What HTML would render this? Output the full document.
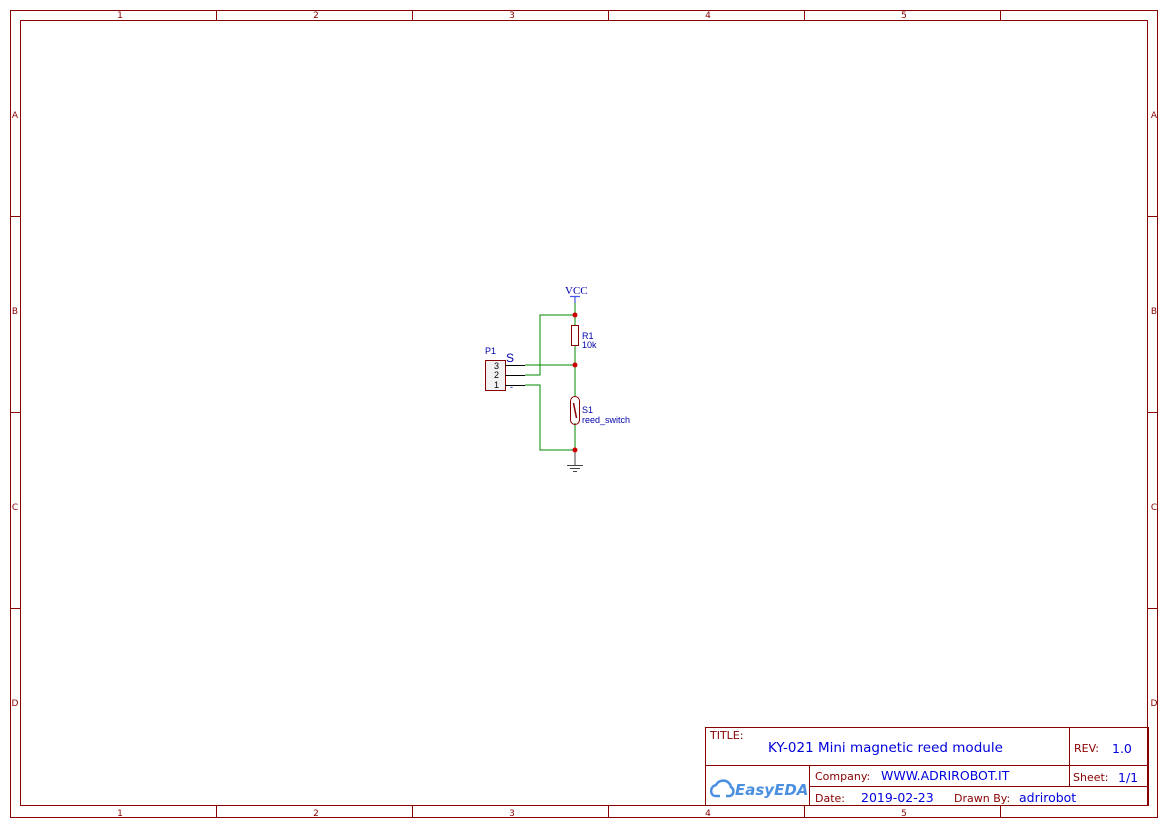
<!DOCTYPE html><html><head><style>body{margin:0;background:#fff}svg{display:block}</style></head><body>
<svg width="1169" height="827" xmlns="http://www.w3.org/2000/svg" font-family="DejaVu Sans, Liberation Sans, sans-serif">
<g stroke="#880000" fill="none" stroke-width="1">
<rect x="10.5" y="10.5" width="1147" height="807"/>
<rect x="20.5" y="20.5" width="1127" height="785"/>
<path d="M216.5 10v10M412.5 10v10M608.5 10v10M804.5 10v10M1000.5 10v10M216.5 806v12M412.5 806v12M608.5 806v12M804.5 806v12M1000.5 806v12M10 216.5h10M10 412.5h10M10 608.5h10M1148 216.5h10M1148 412.5h10M1148 608.5h10"/>
<rect x="705.5" y="727.5" width="443" height="78"/>
<path d="M705 765.5h444M809 786.5h340M1069.5 727v59M809.5 765v41"/>
</g>
<g fill="#880000" font-size="9" text-anchor="middle">
<text x="120" y="18">1</text><text x="316" y="18">2</text><text x="512" y="18">3</text><text x="708" y="18">4</text><text x="904" y="18">5</text>
<text x="120" y="816">1</text><text x="316" y="816">2</text><text x="512" y="816">3</text><text x="708" y="816">4</text><text x="904" y="816">5</text>
<text x="15" y="118">A</text><text x="15" y="314">B</text><text x="15" y="510">C</text><text x="15" y="706">D</text>
<text x="1154" y="118">A</text><text x="1154" y="314">B</text><text x="1154" y="510">C</text><text x="1154" y="706">D</text>
</g>
<g font-size="11" fill="#880000">
<text x="710" y="739">TITLE:</text><text x="1074" y="752">REV:</text><text x="1073" y="781">Sheet:</text>
<text x="815" y="780">Company:</text><text x="815" y="802">Date:</text><text x="954" y="802">Drawn By:</text>
</g>
<g fill="#0000dd">
<text x="768" y="752" font-size="13.5">KY-021 Mini magnetic reed module</text>
<text x="1112" y="753" font-size="12.5">1.0</text><text x="1118" y="782" font-size="12.5">1/1</text>
<text x="881" y="780" font-size="12.5">WWW.ADRIROBOT.IT</text>
<text x="861" y="802" font-size="12.5">2019-02-23</text><text x="1019" y="802" font-size="12.5">adrirobot</text>
</g>
<text x="735" y="795" font-size="15" font-weight="bold" font-style="italic" fill="#4a8fe0">EasyEDA</text>
<path d="M714 796a6 6 0 0 1 2-11a8 8 0 0 1 15 2a5 5 0 0 1 -1 9h-4m-6 0h-6" stroke="#4a8fe0" stroke-width="2.5" fill="none"/>
<g stroke="#008800" fill="none" stroke-width="1">
<path d="M575 303v22M575 345v52M575 423v42M575 315h-35v60h-15M525 365h50M525 385h15v65h35"/>
</g>
<path d="M575 296v7M570 296.5h10" stroke="#4455ee" stroke-width="1.2"/>
<text x="565" y="294" font-size="11" fill="#0000aa" font-family="Liberation Serif, serif">VCC</text>
<rect x="571.5" y="325.5" width="7" height="20" fill="none" stroke="#880000"/>
<rect x="570.5" y="396.5" width="9" height="28" rx="4.5" fill="none" stroke="#880000"/>
<path d="M573.5 403l3 15" stroke="#880000" stroke-width="1.5"/>
<path d="M575 452v13M567 465.5h16M570 468.5h10M573 471.5h4" stroke="#444" stroke-width="1"/>
<g fill="#cc0000"><circle cx="575" cy="315" r="2.5"/><circle cx="575" cy="365" r="2.5"/><circle cx="575" cy="450" r="2.5"/></g>
<rect x="485.5" y="360.5" width="20" height="30" fill="#f2f2f2" stroke="#880000"/>
<path d="M505 365.5h20M505 375.5h20M505 385.5h20" stroke="#000"/>
<g font-size="9" fill="#000" font-family="Liberation Sans, sans-serif"><text x="494" y="369">3</text><text x="494" y="378">2</text><text x="494" y="388">1</text></g>
<g font-family="Liberation Sans, sans-serif" fill="#0000aa">
<text x="485" y="354" font-size="9">P1</text><text x="506" y="362" font-size="12">S</text><text x="510" y="390" font-size="9">-</text>
<text x="582" y="339" font-size="9">R1</text><text x="582" y="348" font-size="9">10k</text>
<text x="582" y="413" font-size="9">S1</text><text x="582" y="423" font-size="9">reed_switch</text>
</g>
</svg></body></html>
